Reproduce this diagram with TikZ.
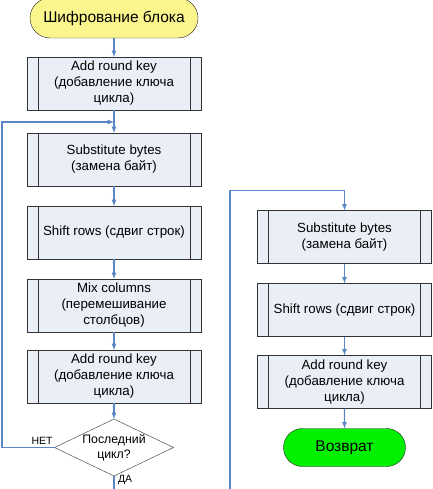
\documentclass[tikz,border=0pt]{standalone}
\usepackage{fontspec}
\setmainfont{Liberation Sans}
\usepackage{tikz}
\usetikzlibrary{positioning,shapes.geometric,shapes.misc}

\definecolor{boxfill}{HTML}{EAEFF7}
\definecolor{flowblue}{HTML}{5A86C5}
\definecolor{startfill}{HTML}{FAF58C}
\definecolor{endfill}{HTML}{00F000}

\begin{document}
\begin{tikzpicture}[x=1pt,y=-1pt,every node/.style={outer sep=0pt},
 font=\fontsize{13.3}{16}\selectfont,
 proc/.style={draw=black!80,fill=boxfill,minimum width=174pt,minimum height=53pt,
  align=center,inner sep=0pt,
  path picture={\draw[black!80] ([xshift=11pt]path picture bounding box.north west)
   -- ([xshift=11pt]path picture bounding box.south west);
   \draw[black!80] ([xshift=-11pt]path picture bounding box.north east)
   -- ([xshift=-11pt]path picture bounding box.south east);}},
 term/.style={draw=black!85,rounded rectangle,inner sep=0pt,
  font=\fontsize{15.5}{18}\selectfont},
 decide/.style={draw=black!80,fill=white,diamond,aspect=2.1,inner sep=-6pt,
  minimum width=119pt,minimum height=57pt,align=center,
  font=\fontsize{12.3}{15}\selectfont},
 small/.style={font=\fontsize{10.5}{12}\selectfont,inner sep=0pt},
 flow/.style={draw=flowblue,line width=1.2pt,-latex},
 wire/.style={draw=flowblue,line width=1.2pt}]

  \useasboundingbox (0,0) rectangle (432,489);

  % left column
  \node[term,fill=startfill,minimum width=168pt,minimum height=40pt] (start) at (114,18)
   {Шифрование блока};
  \node[proc,below=19pt of start] (b1) {Add round key\\(добавление ключа\\цикла)};
  \node[proc,below=23pt of b1] (b2) {Substitute bytes\\(замена байт)};
  \node[proc,below=20pt of b2] (b3) {Shift rows (сдвиг строк)};
  \node[proc,below=20pt of b3] (b4) {Mix columns\\(перемешивание\\столбцов)};
  \node[proc,below=18pt of b4] (b5) {Add round key\\(добавление ключа\\цикла)};
  \node[decide,below=16pt of b5] (d) {Последний\\цикл?};

  \draw[flow] (start) -- (b1);
  \draw[flow] (b1) -- (b2);
  \draw[flow] (b2) -- (b3);
  \draw[flow] (b3) -- (b4);
  \draw[flow] (b4) -- (b5);
  \draw[flow] (b5) -- (d);

  \coordinate (j1) at ([yshift=-12pt]b1.south);
  \coordinate (lft) at (2,0);
  \draw[flow] (d.west) -- (d.west -| lft) |- (j1);
  \node[small,anchor=south east] (no) at ([xshift=-2pt,yshift=3pt]d.west) {НЕТ};
  \coordinate (dout) at (114,489);
  \draw[wire] (d.south) -- (dout);
  \node[small,anchor=north west] (yes) at ([xshift=4pt,yshift=1pt]d.south) {ДА};

  % right column
  \node[proc] (r1) at (344.5,237) {Substitute bytes\\(замена байт)};
  \node[proc,below=20pt of r1] (r2) {Shift rows (сдвиг строк)};
  \node[proc,below=19pt of r2] (r3) {Add round key\\(добавление ключа\\цикла)};
  \node[term,fill=endfill,minimum width=122pt,minimum height=38pt,below=20pt of r3] (stop)
   {Возврат};

  \coordinate (rin) at (230,489);
  \draw[flow] (rin) |- ([yshift=20pt]r1.north) -- (r1.north);
  \draw[flow] (r1) -- (r2);
  \draw[flow] (r2) -- (r3);
  \draw[flow] (r3) -- (stop);

\end{tikzpicture}
\end{document}
